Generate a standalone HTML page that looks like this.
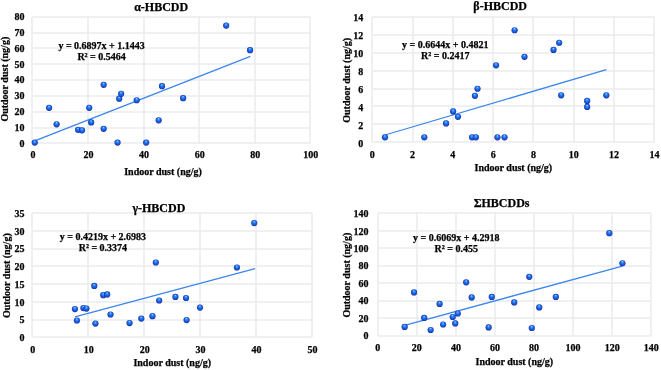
<!DOCTYPE html>
<html><head><meta charset="utf-8"><style>
html,body{margin:0;padding:0;background:#fff;}
body{width:661px;height:370px;overflow:hidden;}
svg{display:block;will-change:transform;}
</style></head><body><svg width="661" height="370" viewBox="0 0 661 370"><defs><radialGradient id="sph" cx="0.5" cy="0.5" r="0.5" fx="0.48" fy="0.22"><stop offset="0" stop-color="#a8f0ff"/><stop offset="0.25" stop-color="#3a98ff"/><stop offset="0.55" stop-color="#1f66ee"/><stop offset="0.85" stop-color="#1848c8"/><stop offset="1" stop-color="#0c2a90"/></radialGradient></defs><g stroke="#e8ebec" stroke-width="1.5"><line x1="32.5" y1="143" x2="310.3" y2="143"/><line x1="32.5" y1="128" x2="310.3" y2="128"/><line x1="32.5" y1="112" x2="310.3" y2="112"/><line x1="32.5" y1="96" x2="310.3" y2="96"/><line x1="32.5" y1="80" x2="310.3" y2="80"/><line x1="32.5" y1="64" x2="310.3" y2="64"/><line x1="32.5" y1="48" x2="310.3" y2="48"/><line x1="32.5" y1="33" x2="310.3" y2="33"/><line x1="32.5" y1="17" x2="310.3" y2="17"/><line x1="32" y1="16.9" x2="32" y2="143.3"/><line x1="88" y1="16.9" x2="88" y2="143.3"/><line x1="144" y1="16.9" x2="144" y2="143.3"/><line x1="199" y1="16.9" x2="199" y2="143.3"/><line x1="255" y1="16.9" x2="255" y2="143.3"/><line x1="310" y1="16.9" x2="310" y2="143.3"/></g><g font-family='"Liberation Serif", serif' font-weight="bold" font-size="10" fill="#000" stroke="#000" stroke-width="0.25"><text x="24.4" y="146.6" text-anchor="end">0</text><text x="24.4" y="130.8" text-anchor="end">10</text><text x="24.4" y="115" text-anchor="end">20</text><text x="24.4" y="99.2" text-anchor="end">30</text><text x="24.4" y="83.4" text-anchor="end">40</text><text x="24.4" y="67.6" text-anchor="end">50</text><text x="24.4" y="51.8" text-anchor="end">60</text><text x="24.4" y="36" text-anchor="end">70</text><text x="24.4" y="20.2" text-anchor="end">80</text><text x="33" y="157.8" text-anchor="middle">0</text><text x="88.56" y="157.8" text-anchor="middle">20</text><text x="144.12" y="157.8" text-anchor="middle">40</text><text x="199.68" y="157.8" text-anchor="middle">60</text><text x="255.24" y="157.8" text-anchor="middle">80</text><text x="310.8" y="157.8" text-anchor="middle">100</text><text x="163" y="174.8" text-anchor="middle">Indoor dust (ng/g)</text><text transform="translate(7.6,79.2) rotate(-90)" text-anchor="middle">Outdoor dust (ng/g)</text><text x="101.6" y="49" text-anchor="middle">y = 0.6897x + 1.1443</text><text x="101.6" y="60.4" text-anchor="middle">R² = 0.5464</text><text x="161.2" y="11.3" text-anchor="middle" font-size="12">α-HBCDD</text></g><line x1="34.77" y1="140.94" x2="250.34" y2="56.38" stroke="#3d86ec" stroke-width="1.3"/><g fill="url(#sph)"><circle cx="34.77" cy="142.61" r="3.1"/><circle cx="49.1" cy="107.85" r="3.1"/><circle cx="56.6" cy="124.28" r="3.1"/><circle cx="78.1" cy="129.81" r="3.1"/><circle cx="81.99" cy="130.37" r="3.1"/><circle cx="89.22" cy="107.85" r="3.1"/><circle cx="91.16" cy="122.39" r="3.1"/><circle cx="103.66" cy="84.78" r="3.1"/><circle cx="103.66" cy="128.86" r="3.1"/><circle cx="117.55" cy="142.61" r="3.1"/><circle cx="119.22" cy="98.69" r="3.1"/><circle cx="121.16" cy="93.79" r="3.1"/><circle cx="136.72" cy="100.27" r="3.1"/><circle cx="146.16" cy="142.61" r="3.1"/><circle cx="158.67" cy="120.33" r="3.1"/><circle cx="162" cy="86.2" r="3.1"/><circle cx="183.11" cy="98.21" r="3.1"/><circle cx="226.17" cy="25.53" r="3.1"/><circle cx="250.06" cy="50.18" r="3.1"/></g><g stroke="#e8ebec" stroke-width="1.5"><line x1="372.2" y1="142" x2="654.4" y2="142"/><line x1="372.2" y1="124" x2="654.4" y2="124"/><line x1="372.2" y1="106" x2="654.4" y2="106"/><line x1="372.2" y1="89" x2="654.4" y2="89"/><line x1="372.2" y1="71" x2="654.4" y2="71"/><line x1="372.2" y1="53" x2="654.4" y2="53"/><line x1="372.2" y1="35" x2="654.4" y2="35"/><line x1="372.2" y1="17" x2="654.4" y2="17"/><line x1="372" y1="17" x2="372" y2="142.3"/><line x1="413" y1="17" x2="413" y2="142.3"/><line x1="453" y1="17" x2="453" y2="142.3"/><line x1="493" y1="17" x2="493" y2="142.3"/><line x1="533" y1="17" x2="533" y2="142.3"/><line x1="574" y1="17" x2="574" y2="142.3"/><line x1="614" y1="17" x2="614" y2="142.3"/><line x1="654" y1="17" x2="654" y2="142.3"/></g><g font-family='"Liberation Serif", serif' font-weight="bold" font-size="10" fill="#000" stroke="#000" stroke-width="0.25"><text x="363.2" y="146.5" text-anchor="end">0</text><text x="363.2" y="128.6" text-anchor="end">2</text><text x="363.2" y="110.7" text-anchor="end">4</text><text x="363.2" y="92.8" text-anchor="end">6</text><text x="363.2" y="74.9" text-anchor="end">8</text><text x="363.2" y="57" text-anchor="end">10</text><text x="363.2" y="39.1" text-anchor="end">12</text><text x="363.2" y="21.2" text-anchor="end">14</text><text x="372.2" y="157.9" text-anchor="middle">0</text><text x="412.51" y="157.9" text-anchor="middle">2</text><text x="452.83" y="157.9" text-anchor="middle">4</text><text x="493.14" y="157.9" text-anchor="middle">6</text><text x="533.46" y="157.9" text-anchor="middle">8</text><text x="573.77" y="157.9" text-anchor="middle">10</text><text x="614.09" y="157.9" text-anchor="middle">12</text><text x="654.4" y="157.9" text-anchor="middle">14</text><text x="513.4" y="170.9" text-anchor="middle">Indoor dust (ng/g)</text><text transform="translate(349.5,80.3) rotate(-90)" text-anchor="middle">Outdoor dust (ng/g)</text><text x="445.2" y="48" text-anchor="middle">y = 0.6644x + 0.4821</text><text x="445.2" y="58.9" text-anchor="middle">R² = 0.2417</text><text x="500.2" y="10.4" text-anchor="middle" font-size="12">β-HBCDD</text></g><line x1="385" y1="135" x2="606.32" y2="69.71" stroke="#3d86ec" stroke-width="1.3"/><g fill="url(#sph)"><circle cx="385" cy="137.36" r="3.1"/><circle cx="424.3" cy="137.36" r="3.1"/><circle cx="446.07" cy="123.4" r="3.1"/><circle cx="453.13" cy="111.41" r="3.1"/><circle cx="457.97" cy="116.87" r="3.1"/><circle cx="472.08" cy="137.36" r="3.1"/><circle cx="475.91" cy="137.36" r="3.1"/><circle cx="474.9" cy="95.83" r="3.1"/><circle cx="477.52" cy="88.76" r="3.1"/><circle cx="496.06" cy="65.31" r="3.1"/><circle cx="497.47" cy="137.36" r="3.1"/><circle cx="504.53" cy="137.36" r="3.1"/><circle cx="514.61" cy="30.23" r="3.1"/><circle cx="524.48" cy="56.81" r="3.1"/><circle cx="553.51" cy="49.92" r="3.1"/><circle cx="559.16" cy="42.76" r="3.1"/><circle cx="561.17" cy="95.3" r="3.1"/><circle cx="587.17" cy="100.94" r="3.1"/><circle cx="587.17" cy="106.93" r="3.1"/><circle cx="606.32" cy="95.3" r="3.1"/></g><g stroke="#e8ebec" stroke-width="1.5"><line x1="32.4" y1="337" x2="312" y2="337"/><line x1="32.4" y1="320" x2="312" y2="320"/><line x1="32.4" y1="302" x2="312" y2="302"/><line x1="32.4" y1="284" x2="312" y2="284"/><line x1="32.4" y1="266" x2="312" y2="266"/><line x1="32.4" y1="249" x2="312" y2="249"/><line x1="32.4" y1="231" x2="312" y2="231"/><line x1="32.4" y1="213" x2="312" y2="213"/><line x1="32" y1="213" x2="32" y2="337.3"/><line x1="88" y1="213" x2="88" y2="337.3"/><line x1="144" y1="213" x2="144" y2="337.3"/><line x1="200" y1="213" x2="200" y2="337.3"/><line x1="256" y1="213" x2="256" y2="337.3"/><line x1="312" y1="213" x2="312" y2="337.3"/></g><g font-family='"Liberation Serif", serif' font-weight="bold" font-size="10" fill="#000" stroke="#000" stroke-width="0.25"><text x="24.4" y="341.2" text-anchor="end">0</text><text x="24.4" y="323.44" text-anchor="end">5</text><text x="24.4" y="305.69" text-anchor="end">10</text><text x="24.4" y="287.93" text-anchor="end">15</text><text x="24.4" y="270.17" text-anchor="end">20</text><text x="24.4" y="252.41" text-anchor="end">25</text><text x="24.4" y="234.66" text-anchor="end">30</text><text x="24.4" y="216.9" text-anchor="end">35</text><text x="32.8" y="353.2" text-anchor="middle">0</text><text x="88.72" y="353.2" text-anchor="middle">10</text><text x="144.64" y="353.2" text-anchor="middle">20</text><text x="200.56" y="353.2" text-anchor="middle">30</text><text x="256.48" y="353.2" text-anchor="middle">40</text><text x="312.4" y="353.2" text-anchor="middle">50</text><text x="172.2" y="366.2" text-anchor="middle">Indoor dust (ng/g)</text><text transform="translate(9.7,275.7) rotate(-90)" text-anchor="middle">Outdoor dust (ng/g)</text><text x="102.9" y="239.8" text-anchor="middle">y = 0.4219x + 2.6983</text><text x="102.9" y="250.6" text-anchor="middle">R² = 0.3374</text><text x="158.9" y="211.6" text-anchor="middle" font-size="12">γ-HBCDD</text></g><line x1="74.91" y1="316.93" x2="255.08" y2="268.66" stroke="#3d86ec" stroke-width="1.3"/><g fill="url(#sph)"><circle cx="74.91" cy="309.03" r="3.1"/><circle cx="76.92" cy="320.5" r="3.1"/><circle cx="83.41" cy="308.04" r="3.1"/><circle cx="86.43" cy="308.54" r="3.1"/><circle cx="94.31" cy="285.95" r="3.1"/><circle cx="95.43" cy="323.59" r="3.1"/><circle cx="103.26" cy="295.18" r="3.1"/><circle cx="107.17" cy="294.47" r="3.1"/><circle cx="110.53" cy="314.5" r="3.1"/><circle cx="129.54" cy="323.03" r="3.1"/><circle cx="141.28" cy="318.62" r="3.1"/><circle cx="152.47" cy="316.14" r="3.1"/><circle cx="155.82" cy="262.51" r="3.1"/><circle cx="159.18" cy="300.51" r="3.1"/><circle cx="175.4" cy="296.96" r="3.1"/><circle cx="186.02" cy="298.02" r="3.1"/><circle cx="186.58" cy="320.04" r="3.1"/><circle cx="200" cy="307.61" r="3.1"/><circle cx="236.91" cy="267.48" r="3.1"/><circle cx="254.24" cy="223.09" r="3.1"/></g><g stroke="#e8ebec" stroke-width="1.5"><line x1="377.8" y1="336" x2="651.2" y2="336"/><line x1="377.8" y1="318" x2="651.2" y2="318"/><line x1="377.8" y1="301" x2="651.2" y2="301"/><line x1="377.8" y1="283" x2="651.2" y2="283"/><line x1="377.8" y1="266" x2="651.2" y2="266"/><line x1="377.8" y1="248" x2="651.2" y2="248"/><line x1="377.8" y1="231" x2="651.2" y2="231"/><line x1="377.8" y1="213" x2="651.2" y2="213"/><line x1="378" y1="213.4" x2="378" y2="335.6"/><line x1="417" y1="213.4" x2="417" y2="335.6"/><line x1="456" y1="213.4" x2="456" y2="335.6"/><line x1="495" y1="213.4" x2="495" y2="335.6"/><line x1="534" y1="213.4" x2="534" y2="335.6"/><line x1="573" y1="213.4" x2="573" y2="335.6"/><line x1="612" y1="213.4" x2="612" y2="335.6"/><line x1="651" y1="213.4" x2="651" y2="335.6"/></g><g font-family='"Liberation Serif", serif' font-weight="bold" font-size="10" fill="#000" stroke="#000" stroke-width="0.25"><text x="368.5" y="339.3" text-anchor="end">0</text><text x="368.5" y="321.84" text-anchor="end">20</text><text x="368.5" y="304.39" text-anchor="end">40</text><text x="368.5" y="286.93" text-anchor="end">60</text><text x="368.5" y="269.47" text-anchor="end">80</text><text x="368.5" y="252.01" text-anchor="end">100</text><text x="368.5" y="234.56" text-anchor="end">120</text><text x="368.5" y="217.1" text-anchor="end">140</text><text x="377.8" y="350.7" text-anchor="middle">0</text><text x="416.86" y="350.7" text-anchor="middle">20</text><text x="455.91" y="350.7" text-anchor="middle">40</text><text x="494.97" y="350.7" text-anchor="middle">60</text><text x="534.03" y="350.7" text-anchor="middle">80</text><text x="573.09" y="350.7" text-anchor="middle">100</text><text x="612.14" y="350.7" text-anchor="middle">120</text><text x="651.2" y="350.7" text-anchor="middle">140</text><text x="514.3" y="364.5" text-anchor="middle">Indoor dust (ng/g)</text><text transform="translate(349.5,275.2) rotate(-90)" text-anchor="middle">Outdoor dust (ng/g)</text><text x="456.2" y="241" text-anchor="middle">y = 0.6069x + 4.2918</text><text x="456.2" y="252" text-anchor="middle">R² = 0.455</text><text x="501.6" y="207.1" text-anchor="middle" font-size="12">ΣHBCDDs</text></g><line x1="404.66" y1="325.3" x2="622.41" y2="266.24" stroke="#3d86ec" stroke-width="1.3"/><g fill="url(#sph)"><circle cx="404.66" cy="326.95" r="3.1"/><circle cx="414.04" cy="292.38" r="3.1"/><circle cx="424.19" cy="317.96" r="3.1"/><circle cx="430.64" cy="330" r="3.1"/><circle cx="439.62" cy="303.9" r="3.1"/><circle cx="443.13" cy="324.5" r="3.1"/><circle cx="452.7" cy="317" r="3.1"/><circle cx="455.24" cy="323.46" r="3.1"/><circle cx="457.78" cy="313.51" r="3.1"/><circle cx="466.18" cy="282.34" r="3.1"/><circle cx="471.65" cy="297.45" r="3.1"/><circle cx="488.64" cy="327.47" r="3.1"/><circle cx="491.76" cy="296.92" r="3.1"/><circle cx="514.22" cy="302.42" r="3.1"/><circle cx="529.26" cy="276.85" r="3.1"/><circle cx="531.79" cy="328" r="3.1"/><circle cx="539.22" cy="307.4" r="3.1"/><circle cx="555.81" cy="296.92" r="3.1"/><circle cx="609.32" cy="233.2" r="3.1"/><circle cx="622.41" cy="263.23" r="3.1"/></g></svg></body></html>
